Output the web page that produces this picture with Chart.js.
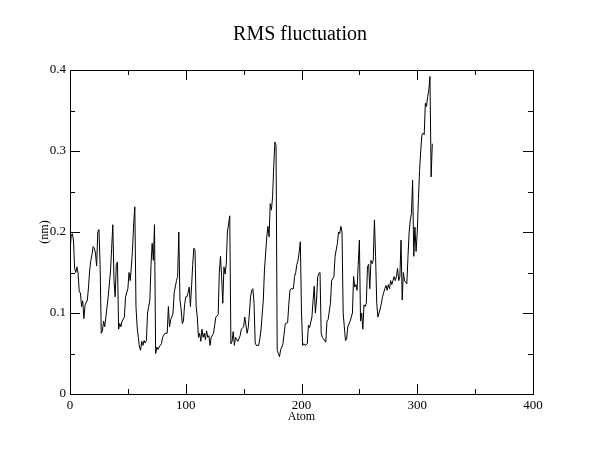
<!DOCTYPE html>
<html>
<head>
<meta charset="utf-8">
<script src="https://cdn.jsdelivr.net/npm/chart.js@4/dist/chart.umd.min.js"></script>
<style>
  html, body { margin: 0; padding: 0; background: #fff; }
  #wrap { width: 600px; height: 464px; }
</style>
</head>
<body>
<div id="wrap"><canvas id="rmsf" width="600" height="464"></canvas></div>
<script>
// atom index (x) and RMS fluctuation in nm (y)
var atoms = [
  0, 1, 2, 3, 4, 5, 6, 7, 8, 9, 10, 11, 12, 13, 15, 16, 17, 18, 19, 20,
  21, 22, 23, 24, 25, 26, 27, 28, 29, 30, 31, 33, 35, 36, 37, 38, 39, 40, 41, 42,
  43, 44, 45, 47, 48, 50, 51, 52, 53, 54, 55, 56, 57, 58, 59, 60, 61, 62, 63, 64,
  65, 66, 67, 68, 69, 70, 71, 72, 73, 74, 75, 76, 77, 79, 80, 82, 84, 85, 86, 87,
  88, 89, 90, 92, 93, 94, 95, 96, 97, 98, 99, 100, 101, 102, 103, 104, 105, 106, 107, 108, 109,
  110, 111, 112, 113, 114, 115, 116, 117, 118, 119, 120, 121, 122, 124, 126, 128, 129, 130, 131, 132,
  133, 134, 135, 136, 137, 138, 139, 140, 141, 142, 143, 145, 147, 148, 150, 151, 152, 153, 154, 155,
  156, 157, 158, 159, 160, 161, 163, 164, 165, 167, 168, 170, 171, 172, 173, 174, 175, 176, 177, 178,
  179, 180, 181, 182, 183, 184, 186, 188, 189, 190, 191, 193, 194, 195, 196, 197, 198, 199, 200, 201,
  202, 203, 205, 206, 207, 209, 210, 211, 212, 213, 214, 215, 216, 217, 218, 219, 221, 222, 223, 225,
  226, 228, 229, 231, 232, 233, 234, 235, 236, 237, 238, 239, 240, 242, 244, 245, 246, 247, 248, 249,
  250, 251, 252, 253, 254, 255, 256, 257, 258, 259, 260, 261, 262, 263, 264, 265, 266, 267, 268, 269,
  270, 271, 272, 273, 274, 275, 276, 277, 278, 279, 280, 281, 282, 283, 284, 285, 286, 287, 288, 289,
  290, 291, 292, 293, 294, 295, 296, 297, 298, 299, 300, 301, 302, 303, 304, 305, 306, 307, 308, 309,
  310, 311, 312, 313
];
var rmsf = [
  0.175, 0.195, 0.198, 0.19, 0.155, 0.15, 0.157, 0.149, 0.126, 0.125, 0.108, 0.115, 0.093, 0.11, 0.116, 0.132, 0.153, 0.165, 0.172, 0.182,
  0.18, 0.174, 0.158, 0.2, 0.203, 0.16, 0.075, 0.078, 0.09, 0.083, 0.095, 0.12, 0.152, 0.18, 0.209, 0.14, 0.12, 0.16, 0.163, 0.08,
  0.087, 0.083, 0.09, 0.095, 0.12, 0.13, 0.15, 0.14, 0.157, 0.178, 0.21, 0.231, 0.108, 0.083, 0.07, 0.058, 0.054, 0.065, 0.06, 0.066,
  0.063, 0.066, 0.1, 0.108, 0.116, 0.16, 0.186, 0.165, 0.209, 0.05, 0.058, 0.055, 0.058, 0.062, 0.07, 0.075, 0.075, 0.108, 0.083, 0.092,
  0.095, 0.1, 0.125, 0.14, 0.145, 0.2, 0.116, 0.105, 0.087, 0.09, 0.11, 0.12, 0.12, 0.125, 0.132, 0.108, 0.132, 0.16, 0.18, 0.178, 0.108,
  0.095, 0.07, 0.075, 0.065, 0.08, 0.07, 0.075, 0.067, 0.078, 0.07, 0.072, 0.06, 0.07, 0.075, 0.095, 0.098, 0.15, 0.17, 0.145, 0.112,
  0.157, 0.148, 0.16, 0.2, 0.21, 0.22, 0.062, 0.065, 0.077, 0.06, 0.07, 0.065, 0.072, 0.08, 0.083, 0.095, 0.085, 0.075, 0.082, 0.1,
  0.12, 0.128, 0.13, 0.112, 0.063, 0.06, 0.06, 0.068, 0.079, 0.116, 0.153, 0.194, 0.207, 0.194, 0.235, 0.227, 0.243, 0.28, 0.311, 0.307,
  0.054, 0.05, 0.046, 0.055, 0.058, 0.062, 0.087, 0.088, 0.11, 0.128, 0.13, 0.13, 0.145, 0.15, 0.16, 0.165, 0.175, 0.188, 0.1, 0.06,
  0.062, 0.06, 0.062, 0.085, 0.082, 0.095, 0.115, 0.133, 0.1, 0.116, 0.145, 0.149, 0.15, 0.075, 0.07, 0.068, 0.064, 0.09, 0.092, 0.112,
  0.14, 0.145, 0.17, 0.186, 0.2, 0.198, 0.207, 0.2, 0.1, 0.083, 0.066, 0.068, 0.083, 0.09, 0.1, 0.145, 0.132, 0.135, 0.128, 0.16,
  0.19, 0.09, 0.1, 0.08, 0.11, 0.108, 0.112, 0.157, 0.16, 0.13, 0.165, 0.161, 0.165, 0.215, 0.17, 0.112, 0.095, 0.1, 0.105, 0.112,
  0.12, 0.125, 0.13, 0.134, 0.128, 0.135, 0.13, 0.14, 0.135, 0.14, 0.145, 0.14, 0.145, 0.155, 0.14, 0.145, 0.19, 0.116, 0.15, 0.14,
  0.138, 0.136, 0.17, 0.2, 0.215, 0.223, 0.264, 0.17, 0.206, 0.176, 0.2, 0.24, 0.276, 0.3, 0.32, 0.322, 0.32, 0.359, 0.355, 0.367,
  0.375, 0.392, 0.268, 0.309
];
var xTicks = [0, 100, 200, 300, 400];
var yTicks = [0, 0.1, 0.2, 0.3, 0.4];

var SERIF = "'Liberation Serif', 'DejaVu Serif', serif";

/* ---------- grace-style frame: inward ticks on all four sides + titles ---------- */
var graceFrame = {
  id: 'graceFrame',
  afterDraw: function (chart) {
    var ctx = chart.ctx, a = chart.chartArea;
    var xs = chart.scales.x, ys = chart.scales.y;
    ctx.save();
    ctx.strokeStyle = '#000';
    ctx.lineWidth = 1;
    ctx.strokeRect(Math.round(a.left) + 0.5, Math.round(a.top) + 0.5,
      Math.round(a.right - a.left), Math.round(a.bottom - a.top));
    ctx.beginPath();
    var v, p, len;
    for (v = 0; v <= 400; v += 50) {
      p = Math.round(xs.getPixelForValue(v)) + 0.5;
      len = v % 100 === 0 ? 10 : 5;
      ctx.moveTo(p, a.bottom); ctx.lineTo(p, a.bottom - len);
      ctx.moveTo(p, a.top); ctx.lineTo(p, a.top + len);
    }
    for (var i = 0; i <= 8; i++) {
      p = Math.round(ys.getPixelForValue(i * 0.05)) + 0.5;
      len = i % 2 === 0 ? 10 : 5;
      ctx.moveTo(a.left, p); ctx.lineTo(a.left + len, p);
      ctx.moveTo(a.right, p); ctx.lineTo(a.right - len, p);
    }
    ctx.stroke();

    ctx.fillStyle = '#000';
    ctx.textAlign = 'center';
    ctx.textBaseline = 'middle';
    ctx.font = '20px ' + SERIF;
    ctx.fillText('RMS fluctuation', 300, 35);
    ctx.font = '12px ' + SERIF;
    ctx.fillText('Atom', (a.left + a.right) / 2, a.bottom + 23);
    ctx.translate(a.left - 25, (a.top + a.bottom) / 2);
    ctx.rotate(-Math.PI / 2);
    ctx.fillText('(nm)', 0, 0);
    ctx.restore();
  }
};

var points = atoms.map(function (x, i) { return { x: x, y: rmsf[i] }; });

new Chart(document.getElementById('rmsf'), {
  type: 'line',
  data: {
    datasets: [{
      data: points,
      borderColor: '#000',
      borderWidth: 1,
      pointRadius: 0,
      tension: 0,
      fill: false
    }]
  },
  options: {
    responsive: false,
    animation: false,
    layout: { padding: { left: 0, right: 67, top: 70, bottom: 0 } },
    plugins: {
      legend: { display: false },
      tooltip: { enabled: false },
      title: { display: false }
    },
    scales: {
      x: {
        type: 'linear',
        min: 0, max: 400,
        afterBuildTicks: function (s) { s.ticks = xTicks.map(function (v) { return { value: v }; }); },
        afterFit: function (s) { s.height = 70; },
        grid: { display: false, drawTicks: false },
        border: { display: false },
        ticks: { color: '#000', padding: 4, maxRotation: 0, font: { family: SERIF, size: 13 } }
      },
      y: {
        type: 'linear',
        min: 0, max: 0.4,
        afterBuildTicks: function (s) { s.ticks = yTicks.map(function (v) { return { value: v }; }); },
        afterFit: function (s) { s.width = 70; },
        grid: { display: false, drawTicks: false },
        border: { display: false },
        ticks: {
          color: '#000', padding: 4, font: { family: SERIF, size: 13 },
          callback: function (v) { return String(Math.round(v * 10) / 10); }
        }
      }
    }
  },
  plugins: [graceFrame]
});
</script>
</body>
</html>
